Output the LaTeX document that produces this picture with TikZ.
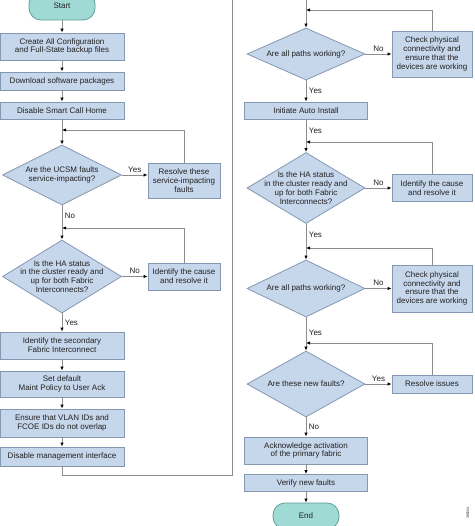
\documentclass[tikz,border=0pt]{standalone}
\usepackage{fontspec}
\setmainfont{Liberation Sans}
\usetikzlibrary{shapes.geometric,positioning,arrows.meta}

\definecolor{boxblue}{HTML}{C6D6EB}
\definecolor{boxline}{HTML}{8497B3}
\definecolor{endteal}{HTML}{A0DAD4}
\definecolor{endline}{HTML}{5E9E99}
\definecolor{linegray}{HTML}{8C8C8C}
\definecolor{txtgray}{HTML}{222222}

\tikzset{
  procbox/.style={rectangle, draw=boxline, fill=boxblue, line width=0.8pt, minimum width=124pt, inner sep=0pt, align=center, text=txtgray},
  sidebox/.style={procbox, minimum width=72pt},
  decision/.style={diamond, draw=boxline, fill=boxblue, line width=0.8pt, minimum width=119pt, inner sep=0pt},
  dtext/.style={align=center, text=txtgray, inner sep=0pt},
  terminal/.style={rectangle, rounded corners=12pt, draw=endline, fill=endteal, line width=0.8pt, minimum width=66pt, minimum height=28pt, text=txtgray},
  flow/.style={color=linegray, line width=0.8pt},
  lbl/.style={text=txtgray, inner sep=2.5pt}
}

\begin{document}
\begin{tikzpicture}[x=1pt,y=-1pt,on grid,font=\fontsize{8}{8.8}\selectfont,
  >={Latex[length=4pt,width=3.4pt,black]}]
\useasboundingbox (0,0) rectangle (474,526);
\fill[white] (0,0) rectangle (474,526);
\clip (0,0) rectangle (474,526);

% left column
\node[terminal] (start) at (62,6) {Start};
\node[procbox, minimum height=27pt, below=40.5pt of start] (config) {Create All Configuration\\and Full-State backup files};
\node[procbox, minimum height=18pt, below=34.5pt of config] (download) {Download software packages};
\node[procbox, minimum height=17pt, below=29.5pt of download] (callhome) {Disable Smart Call Home};
\node[decision, minimum height=60pt, below=64.5pt of callhome,
  label={[dtext]center:Are the UCSM faults\\service-impacting?}] (ucsm) {};
\node[sidebox, minimum height=35pt, right=122pt of ucsm, yshift=-5.5pt] (resolvefaults) {Resolve these\\service-impacting\\faults};
\node[decision, minimum height=73pt, below=101.5pt of ucsm,
  label={[dtext]center:Is the HA status\\in the cluster ready and\\up for both Fabric\\Interconnects?}] (hastate) {};
\node[sidebox, minimum height=27pt, right=122pt of hastate] (fixcause) {Identify the cause\\and resolve it};
\node[procbox, minimum height=27pt, below=69pt of hastate] (secondary) {Identify the secondary\\Fabric Interconnect};
\node[procbox, minimum height=26pt, below=38.5pt of secondary] (maintpolicy) {Set default\\Maint Policy to User Ack};
\node[procbox, minimum height=28pt, below=39pt of maintpolicy] (vlanids) {Ensure that VLAN IDs and\\FCOE IDs do not overlap};
\node[procbox, minimum height=19pt, below=33.5pt of vlanids] (mgmt) {Disable management interface};

% right column
\node[decision, minimum width=118pt, minimum height=52pt,
  label={[dtext]center:Are all paths working?}] (paths) at (306,54) {};
\node[sidebox, minimum width=80pt, minimum height=46pt, right=126pt of paths] (physical) {Check physical\\connectivity and\\ensure that the\\devices are working};
\node[procbox, minimum width=123pt, minimum height=17pt, below=56.5pt of paths] (autoinstall) {Initiate Auto Install};
\node[decision, minimum width=118pt, minimum height=71pt, below=77.5pt of autoinstall,
  label={[dtext]center:Is the HA status\\in the cluster ready and\\up for both Fabric\\Interconnects?}] (hastatetwo) {};
\node[sidebox, minimum width=80pt, minimum height=27pt, right=126pt of hastatetwo] (fixcausetwo) {Identify the cause\\and resolve it};
\node[decision, minimum width=118pt, minimum height=57pt, below=100.5pt of hastatetwo,
  label={[dtext]center:Are all paths working?}] (pathstwo) {};
\node[sidebox, minimum width=80pt, minimum height=47pt, right=126pt of pathstwo] (physicaltwo) {Check physical\\connectivity and\\ensure that the\\devices are working};
\node[decision, minimum width=118pt, minimum height=66pt, below=95.5pt of pathstwo,
  label={[dtext]center:Are these new faults?}] (newfaults) {};
\node[sidebox, minimum width=80pt, minimum height=18pt, right=126pt of newfaults] (resolveissues) {Resolve issues};
\node[procbox, minimum width=123pt, minimum height=27pt, below=66.5pt of newfaults] (acknowledge) {Acknowledge activation\\of the primary fabric};
\node[procbox, minimum width=123pt, minimum height=17pt, below=32.5pt of acknowledge] (verify) {Verify new faults};
\node[terminal, minimum height=26pt, below=33pt of verify] (end) {End};

\node[rotate=90, font=\fontsize{3.5}{4}\selectfont, text=txtgray] (fignum) at (468,513) {390154};

% joins and turns
\coordinate[below=19.5pt of callhome] (joinone);
\coordinate[below=53pt of ucsm] (jointwo);
\coordinate[above=44pt of paths] (jointhree);
\coordinate[below=31.5pt of autoinstall] (joinfour);
\coordinate[below=60pt of hastatetwo] (joinfive);
\coordinate[below=54.5pt of pathstwo] (joinsix);
\coordinate (turnone) at (232,475);
\coordinate (turntwo) at (306,-20);

\path[flow,->]
  (start) edge (config)
  (config) edge (download)
  (download) edge (callhome)
  (callhome) edge (ucsm)
  (ucsm.east) edge node[lbl,above] {Yes} (ucsm.east -| resolvefaults.west)
  (ucsm) edge node[lbl,right,pos=0.3] {No} (hastate)
  (hastate) edge node[lbl,above] {No} (fixcause)
  (hastate) edge node[lbl,right] {Yes} (secondary)
  (secondary) edge (maintpolicy)
  (maintpolicy) edge (vlanids)
  (vlanids) edge (mgmt)
  (paths) edge node[lbl,above] {No} (physical)
  (paths) edge node[lbl,right] {Yes} (autoinstall)
  (autoinstall) edge node[lbl,right,pos=0.35] {Yes} (hastatetwo)
  (hastatetwo) edge node[lbl,above] {No} (fixcausetwo)
  (hastatetwo) edge node[lbl,right,pos=0.3] {Yes} (pathstwo)
  (pathstwo) edge node[lbl,above] {No} (physicaltwo)
  (pathstwo) edge node[lbl,right,pos=0.45] {Yes} (newfaults)
  (newfaults) edge node[lbl,above] {Yes} (resolveissues)
  (newfaults) edge node[lbl,right] {No} (acknowledge)
  (acknowledge) edge (verify)
  (verify) edge (end);

% loop backs
\draw[flow,->] (resolvefaults) |- (joinone);
\draw[flow,->] (fixcause) |- (jointwo);
\draw[flow,->] (physical) |- (jointhree);
\draw[flow,->] (fixcausetwo) |- (joinfour);
\draw[flow,->] (physicaltwo) |- (joinfive);
\draw[flow,->] (resolveissues) |- (joinsix);

% over to the second column
\draw[flow,->] (mgmt) |- (turnone) |- (turntwo) -- (paths);
\end{tikzpicture}
\end{document}
